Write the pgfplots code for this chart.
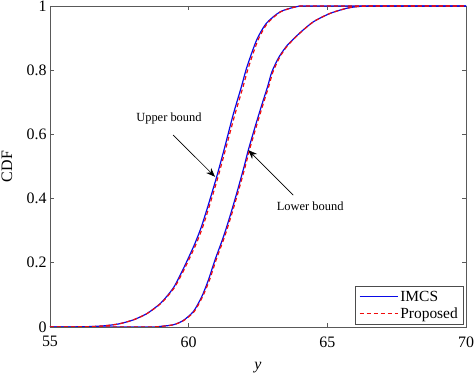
\documentclass[border=0pt]{standalone}
\usepackage{pgfplots}
\pgfplotsset{compat=1.18}
\usepackage{fontspec}
\setmainfont{Liberation Serif}
\usetikzlibrary{arrows.meta}
\definecolor{mblue}{RGB}{10,10,230}
\definecolor{mred}{RGB}{240,12,12}
\begin{document}
\begin{tikzpicture}
\begin{axis}[
  scale only axis, width=416bp, height=321bp,
  at={(0,0)}, anchor=south west,
  xmin=55, xmax=70, ymin=0, ymax=1,
  xtick={55,60,65,70}, ytick={0,0.2,0.4,0.6,0.8,1},
  yticklabels={0,0.2,0.4,0.6,0.8,1},
  tick align=inside, major tick length=4bp,
  axis line style={black!65, line width=0.8bp},
  tick style={black!65, line width=0.6bp},
  ticklabel style={font=\fontsize{16}{18}\selectfont},
  xticklabel style={yshift=-6bp},
  /pgf/number format/assume math mode=true,
  xlabel={\textit{y}}, ylabel={CDF},
  label style={font=\fontsize{16}{18}\selectfont},
  xlabel style={at={(axis description cs:0.5,-0.1277)}, anchor=center},
  ylabel style={at={(axis description cs:-0.1034,0.5)}, anchor=center},
  legend style={at={(0.9928,0.0093)}, anchor=south east, draw=none, name=leg,
    font=\fontsize{15.5}{17}\selectfont, inner xsep=3bp, inner ysep=2bp, row sep=1bp,
    legend cell align=left},
  legend image code/.code={\draw[#1] (0bp,0bp) -- (38bp,0bp);},
  clip=true,
]
\addlegendimage{color=mblue, line width=1.4bp}
\addlegendentry{IMCS}
\addlegendimage{color=mred, dash pattern=on 4bp off 3bp, line width=1.3bp}
\addlegendentry{Proposed}
% Upper bound, IMCS
\addplot[mblue, line width=1.2bp, smooth, tension=0.4, forget plot] coordinates {
(55,0) (56,0.0005) (56.5,0.0015) (57,0.004) (57.5,0.01) (58,0.022) (58.5,0.042)
(59,0.075) (59.45,0.122) (59.8,0.18) (60.2,0.255) (60.45,0.31) (60.7,0.378)
(61,0.465) (61.3,0.56) (61.6,0.66) (61.9,0.748) (62.1,0.81) (62.45,0.894)
(62.8,0.946) (63.3,0.982) (63.9,0.998) (64.5,1) (70,1)
};
% Lower bound, IMCS
\addplot[mblue, line width=1.2bp, smooth, tension=0.4, forget plot] coordinates {
(55,0) (58.5,0) (59,0.002) (59.45,0.007) (59.8,0.02) (60.17,0.048) (60.47,0.094)
(60.71,0.146) (60.95,0.209) (61.25,0.28) (61.5,0.348) (61.75,0.422) (62,0.5)
(62.15,0.551) (62.4,0.625) (62.63,0.69) (62.85,0.75) (63.0,0.795) (63.25,0.84)
(63.55,0.877) (64.02,0.917) (64.5,0.951) (65.1,0.977) (65.7,0.993) (66.2,0.999)
(67,1) (70,1)
};
% Upper bound, Proposed
\addplot[mred, dash pattern=on 4bp off 3bp, line width=1.2bp, smooth, tension=0.4, forget plot] coordinates {
(55,0) (56,0.0005) (56.5,0.0015) (57,0.004) (57.5,0.01) (58,0.022) (58.5,0.042)
(59.02,0.075) (59.48,0.122) (59.84,0.18) (60.25,0.255) (60.5,0.31) (60.75,0.378)
(61.05,0.465) (61.35,0.56) (61.66,0.66) (61.96,0.748) (62.16,0.81) (62.5,0.894)
(62.84,0.946) (63.32,0.982) (63.9,0.998) (64.5,1) (70,1)
};
% Lower bound, Proposed
\addplot[mred, dash pattern=on 4bp off 3bp, line width=1.2bp, smooth, tension=0.4, forget plot] coordinates {
(55,0) (58.5,0) (59,0.002) (59.45,0.007) (59.82,0.02) (60.2,0.048) (60.5,0.094)
(60.75,0.146) (60.99,0.209) (61.29,0.28) (61.54,0.348) (61.79,0.422) (62.04,0.5)
(62.19,0.551) (62.44,0.625) (62.67,0.69) (62.89,0.75) (63.04,0.795) (63.28,0.84)
(63.57,0.877) (64.03,0.917) (64.5,0.951) (65.1,0.977) (65.7,0.993) (66.2,0.999)
(67,1) (70,1)
};
\node[font=\fontsize{12.5}{14}\selectfont] at (axis cs:59.29,0.648) {Upper bound};
\draw[black, line width=0.6bp, -{Stealth[length=9bp,width=7bp]}] (axis cs:59.44,0.598) -- (axis cs:60.95,0.468);
\node[font=\fontsize{12.5}{14}\selectfont] at (axis cs:64.38,0.375) {Lower bound};
\draw[black, line width=0.6bp, -{Stealth[length=9bp,width=7bp]}] (axis cs:63.77,0.411) -- (axis cs:62.15,0.551);
\end{axis}
\draw[black!70, line width=0.6bp] (leg.south west) rectangle (leg.north east);
\pgfresetboundingbox
\path[use as bounding box] (-50bp,-51bp) rectangle (424bp,327bp);
\end{tikzpicture}
\end{document}
